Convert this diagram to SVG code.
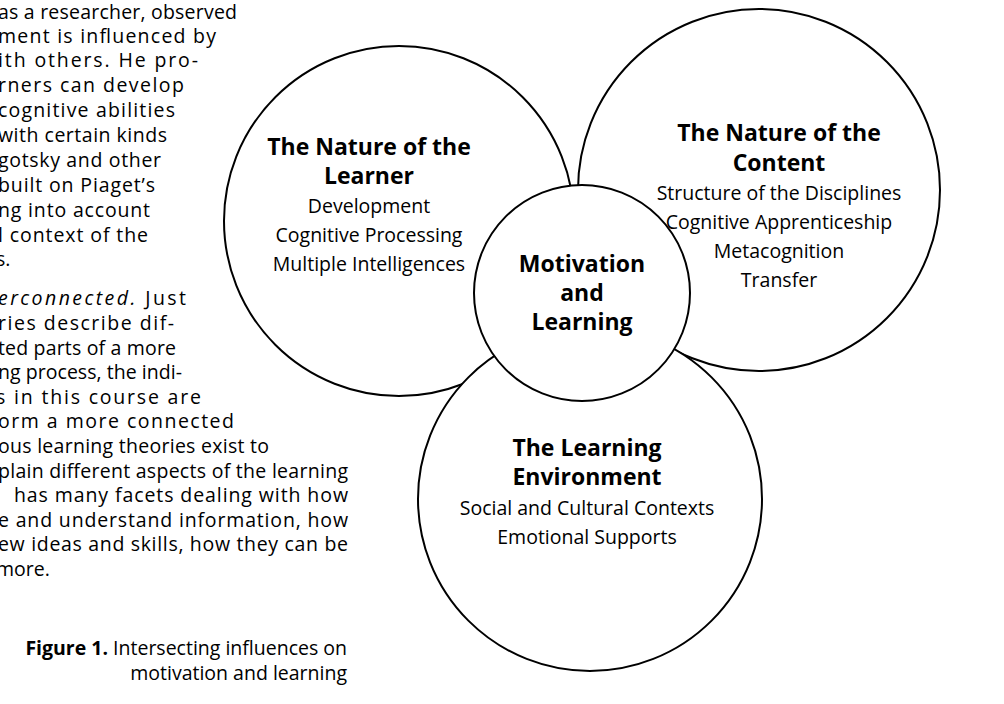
<svg xmlns="http://www.w3.org/2000/svg" width="1004" height="704" viewBox="0 0 1004 704">
<style>
.b{font-family:"Open Sans","Liberation Sans",sans-serif;font-size:19.5px;fill:#000}
.e{text-anchor:end}
.h{font-family:"Open Sans","Liberation Sans",sans-serif;font-size:23px;font-weight:bold;text-anchor:middle}
.s{font-family:"Open Sans","Liberation Sans",sans-serif;font-size:19.5px;text-anchor:middle}
circle{fill:#fff;stroke:#000;stroke-width:2}
</style>
<rect width="1004" height="704" fill="#fff"/>
<g id="body" class="b">
<text x="-2" y="19" textLength="239" lengthAdjust="spacing">as a researcher, observed</text>
<text x="-2" y="43" textLength="218" lengthAdjust="spacing">ment is influenced by</text>
<text x="-2" y="67" textLength="200" lengthAdjust="spacing">ith others. He pro-</text>
<text x="-2" y="92" textLength="186" lengthAdjust="spacing">rners can develop</text>
<text x="-2" y="117" textLength="177" lengthAdjust="spacing">cognitive abilities</text>
<text x="-2" y="142" textLength="169" lengthAdjust="spacing">with certain kinds</text>
<text x="-2" y="167" textLength="163" lengthAdjust="spacing">gotsky and other</text>
<text x="-2" y="192" textLength="157" lengthAdjust="spacing">built on Piaget’s</text>
<text x="-2" y="217" textLength="152" lengthAdjust="spacing">ng into account</text>
<text x="-2" y="242" textLength="150" lengthAdjust="spacing">l context of the</text>
<text x="-4" y="266">s.</text>
<text x="-2" y="305" textLength="188" lengthAdjust="spacing"><tspan font-style="italic">erconnected.</tspan> Just</text>
<text x="-2" y="330" textLength="176" lengthAdjust="spacing">ries describe dif-</text>
<text x="-2" y="355" textLength="178" lengthAdjust="spacing">ted parts of a more</text>
<text x="-2" y="379" textLength="184" lengthAdjust="spacing">ng process, the indi-</text>
<text x="-4" y="404" textLength="205" lengthAdjust="spacing">s in this course are</text>
<text x="-2" y="428" textLength="236" lengthAdjust="spacing">orm a more connected</text>
<text x="-2" y="453" textLength="271" lengthAdjust="spacing">ous learning theories exist to</text>
<text x="-2" y="478" textLength="350" lengthAdjust="spacing">plain different aspects of the learning</text>
<text x="14" y="502" textLength="334" lengthAdjust="spacing">has many facets dealing with how</text>
<text x="-2" y="527" textLength="350" lengthAdjust="spacing">e and understand information, how</text>
<text x="-2" y="551" textLength="350" lengthAdjust="spacing">ew ideas and skills, how they can be</text>
<text x="-4" y="576">more.</text>
</g>
<g id="caption" class="b e">
<text x="347" y="655"><tspan font-weight="bold">Figure 1.</tspan> Intersecting influences on</text>
<text x="347" y="680">motivation and learning</text>
</g>
<g id="learner">
<circle cx="399" cy="221" r="175"/>
<text class="h" x="369" y="155">The Nature of the</text>
<text class="h" x="369" y="184">Learner</text>
<text class="s" x="369" y="213">Development</text>
<text class="s" x="369" y="242">Cognitive Processing</text>
<text class="s" x="369" y="271">Multiple Intelligences</text>
</g>
<g id="content">
<circle cx="759" cy="190" r="181"/>
<text class="h" x="779" y="141">The Nature of the</text>
<text class="h" x="779" y="171">Content</text>
<text class="s" x="779" y="200">Structure of the Disciplines</text>
<text class="s" x="779" y="229">Cognitive Apprenticeship</text>
<text class="s" x="779" y="258">Metacognition</text>
<text class="s" x="779" y="287">Transfer</text>
</g>
<g id="environment">
<circle cx="590" cy="499" r="172"/>
<text class="h" x="587" y="456">The Learning</text>
<text class="h" x="587" y="485">Environment</text>
<text class="s" x="587" y="515">Social and Cultural Contexts</text>
<text class="s" x="587" y="544">Emotional Supports</text>
</g>
<g id="motivation">
<circle cx="582" cy="293" r="108"/>
<text class="h" x="582" y="272">Motivation</text>
<text class="h" x="582" y="301">and</text>
<text class="h" x="582" y="330">Learning</text>
</g>
<g id="connectors"/>
</svg>
